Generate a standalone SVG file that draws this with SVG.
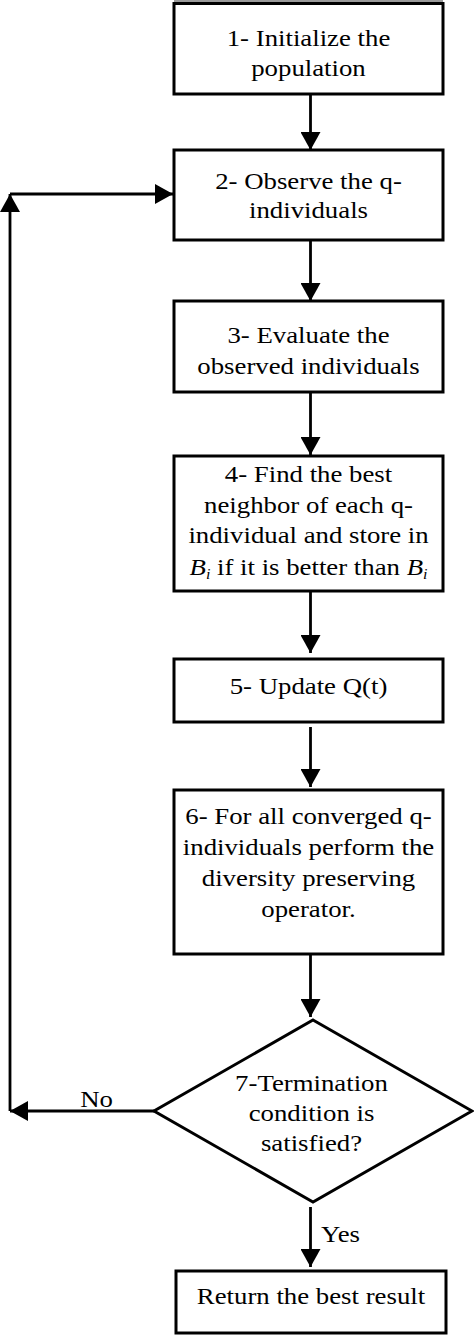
<svg xmlns="http://www.w3.org/2000/svg" width="474" height="1335" viewBox="0 0 474 1335">
<style>
.box{fill:#fff;stroke:#000;stroke-width:3}
.ln{fill:none;stroke:#000;stroke-width:2.8}
.t{font-family:"Liberation Serif","Times New Roman",serif;font-size:23.5px;fill:#000;text-anchor:middle}
.ts{text-anchor:start}
.i{font-style:italic}
</style>
<defs>
<marker id="ah" viewBox="0 0 18 20" refX="18" refY="10" markerWidth="18" markerHeight="20" markerUnits="userSpaceOnUse" orient="auto">
<path d="M0,0 L18,10 L0,20 z" fill="#000"/>
</marker>
</defs>
<rect width="474" height="1335" fill="#fff"/>
<rect x="174" y="0" width="269" height="2.5" fill="#9a9a9a"/>

<g id="connectors">
<line class="ln" x1="310.5" y1="95" x2="310.5" y2="150" marker-end="url(#ah)"/>
<line class="ln" x1="310.5" y1="241" x2="310.5" y2="301" marker-end="url(#ah)"/>
<line class="ln" x1="310.5" y1="393" x2="310.5" y2="455" marker-end="url(#ah)"/>
<line class="ln" x1="310.5" y1="592" x2="310.5" y2="653" marker-end="url(#ah)"/>
<line class="ln" x1="310.5" y1="727" x2="310.5" y2="787" marker-end="url(#ah)"/>
<line class="ln" x1="310.5" y1="955" x2="310.5" y2="1017" marker-end="url(#ah)"/>
<line class="ln" x1="310.5" y1="1207" x2="310.5" y2="1267" marker-end="url(#ah)"/>
<line class="ln" x1="154" y1="1111" x2="10" y2="1111" marker-end="url(#ah)"/>
<line class="ln" x1="10" y1="1111" x2="10" y2="194" marker-end="url(#ah)"/>
<line class="ln" x1="10" y1="194" x2="173" y2="194" marker-end="url(#ah)"/>
<g transform="translate(96.5,0) scale(1.14,1)"><text class="t" x="0" y="1107">No</text></g>
<g transform="translate(321,0) scale(1.14,1)"><text class="t ts" x="0" y="1242">Yes</text></g>
</g>

<g id="n1">
<rect class="box" x="174" y="3.5" width="269" height="90.5"/>
<g transform="translate(308.5,0) scale(1.14,1)">
<text class="t" x="0" y="46">1- Initialize the</text>
<text class="t" x="0" y="76">population</text>
</g>
</g>

<g id="n2">
<rect class="box" x="174" y="150" width="269" height="90"/>
<g transform="translate(308.5,0) scale(1.14,1)">
<text class="t" x="0" y="189.5">2- Observe the q-</text>
<text class="t" x="0" y="218.5">individuals</text>
</g>
</g>

<g id="n3">
<rect class="box" x="174" y="301" width="269" height="91"/>
<g transform="translate(308.5,0) scale(1.14,1)">
<text class="t" x="0" y="343">3- Evaluate the</text>
<text class="t" x="0" y="374">observed individuals</text>
</g>
</g>

<g id="n4">
<rect class="box" x="174" y="456" width="269" height="135"/>
<g transform="translate(308.5,0) scale(1.14,1)">
<text class="t" x="0" y="482">4- Find the best</text>
<text class="t" x="0" y="513">neighbor of each q-</text>
<text class="t" x="0" y="543.5">individual and store in</text>
<text class="t" x="0" y="575"><tspan class="i">B</tspan><tspan class="i" font-size="14" dy="4">i</tspan><tspan dy="-4"> if it is better than </tspan><tspan class="i">B</tspan><tspan class="i" font-size="14" dy="4">i</tspan></text>
</g>
</g>

<g id="n5">
<rect class="box" x="174" y="659" width="269" height="63"/>
<g transform="translate(308.5,0) scale(1.14,1)">
<text class="t" x="0" y="694">5- Update Q(t)</text>
</g>
</g>

<g id="n6">
<rect class="box" x="174" y="790" width="269" height="164"/>
<g transform="translate(308.5,0) scale(1.14,1)">
<text class="t" x="0" y="824.5">6- For all converged q-</text>
<text class="t" x="0" y="855.5">individuals perform the</text>
<text class="t" x="0" y="886.5">diversity preserving</text>
<text class="t" x="0" y="917">operator.</text>
</g>
</g>

<g id="n7">
<polygon class="box" points="313,1020 472,1111 313,1202 154,1111"/>
<g transform="translate(311.5,0) scale(1.14,1)">
<text class="t" x="0" y="1091">7-Termination</text>
<text class="t" x="0" y="1121">condition is</text>
<text class="t" x="0" y="1151.5">satisfied?</text>
</g>
</g>

<g id="n8">
<rect class="box" x="176" y="1271" width="270" height="62"/>
<g transform="translate(311,0) scale(1.14,1)">
<text class="t" x="0" y="1304">Return the best result</text>
</g>
</g>
</svg>
